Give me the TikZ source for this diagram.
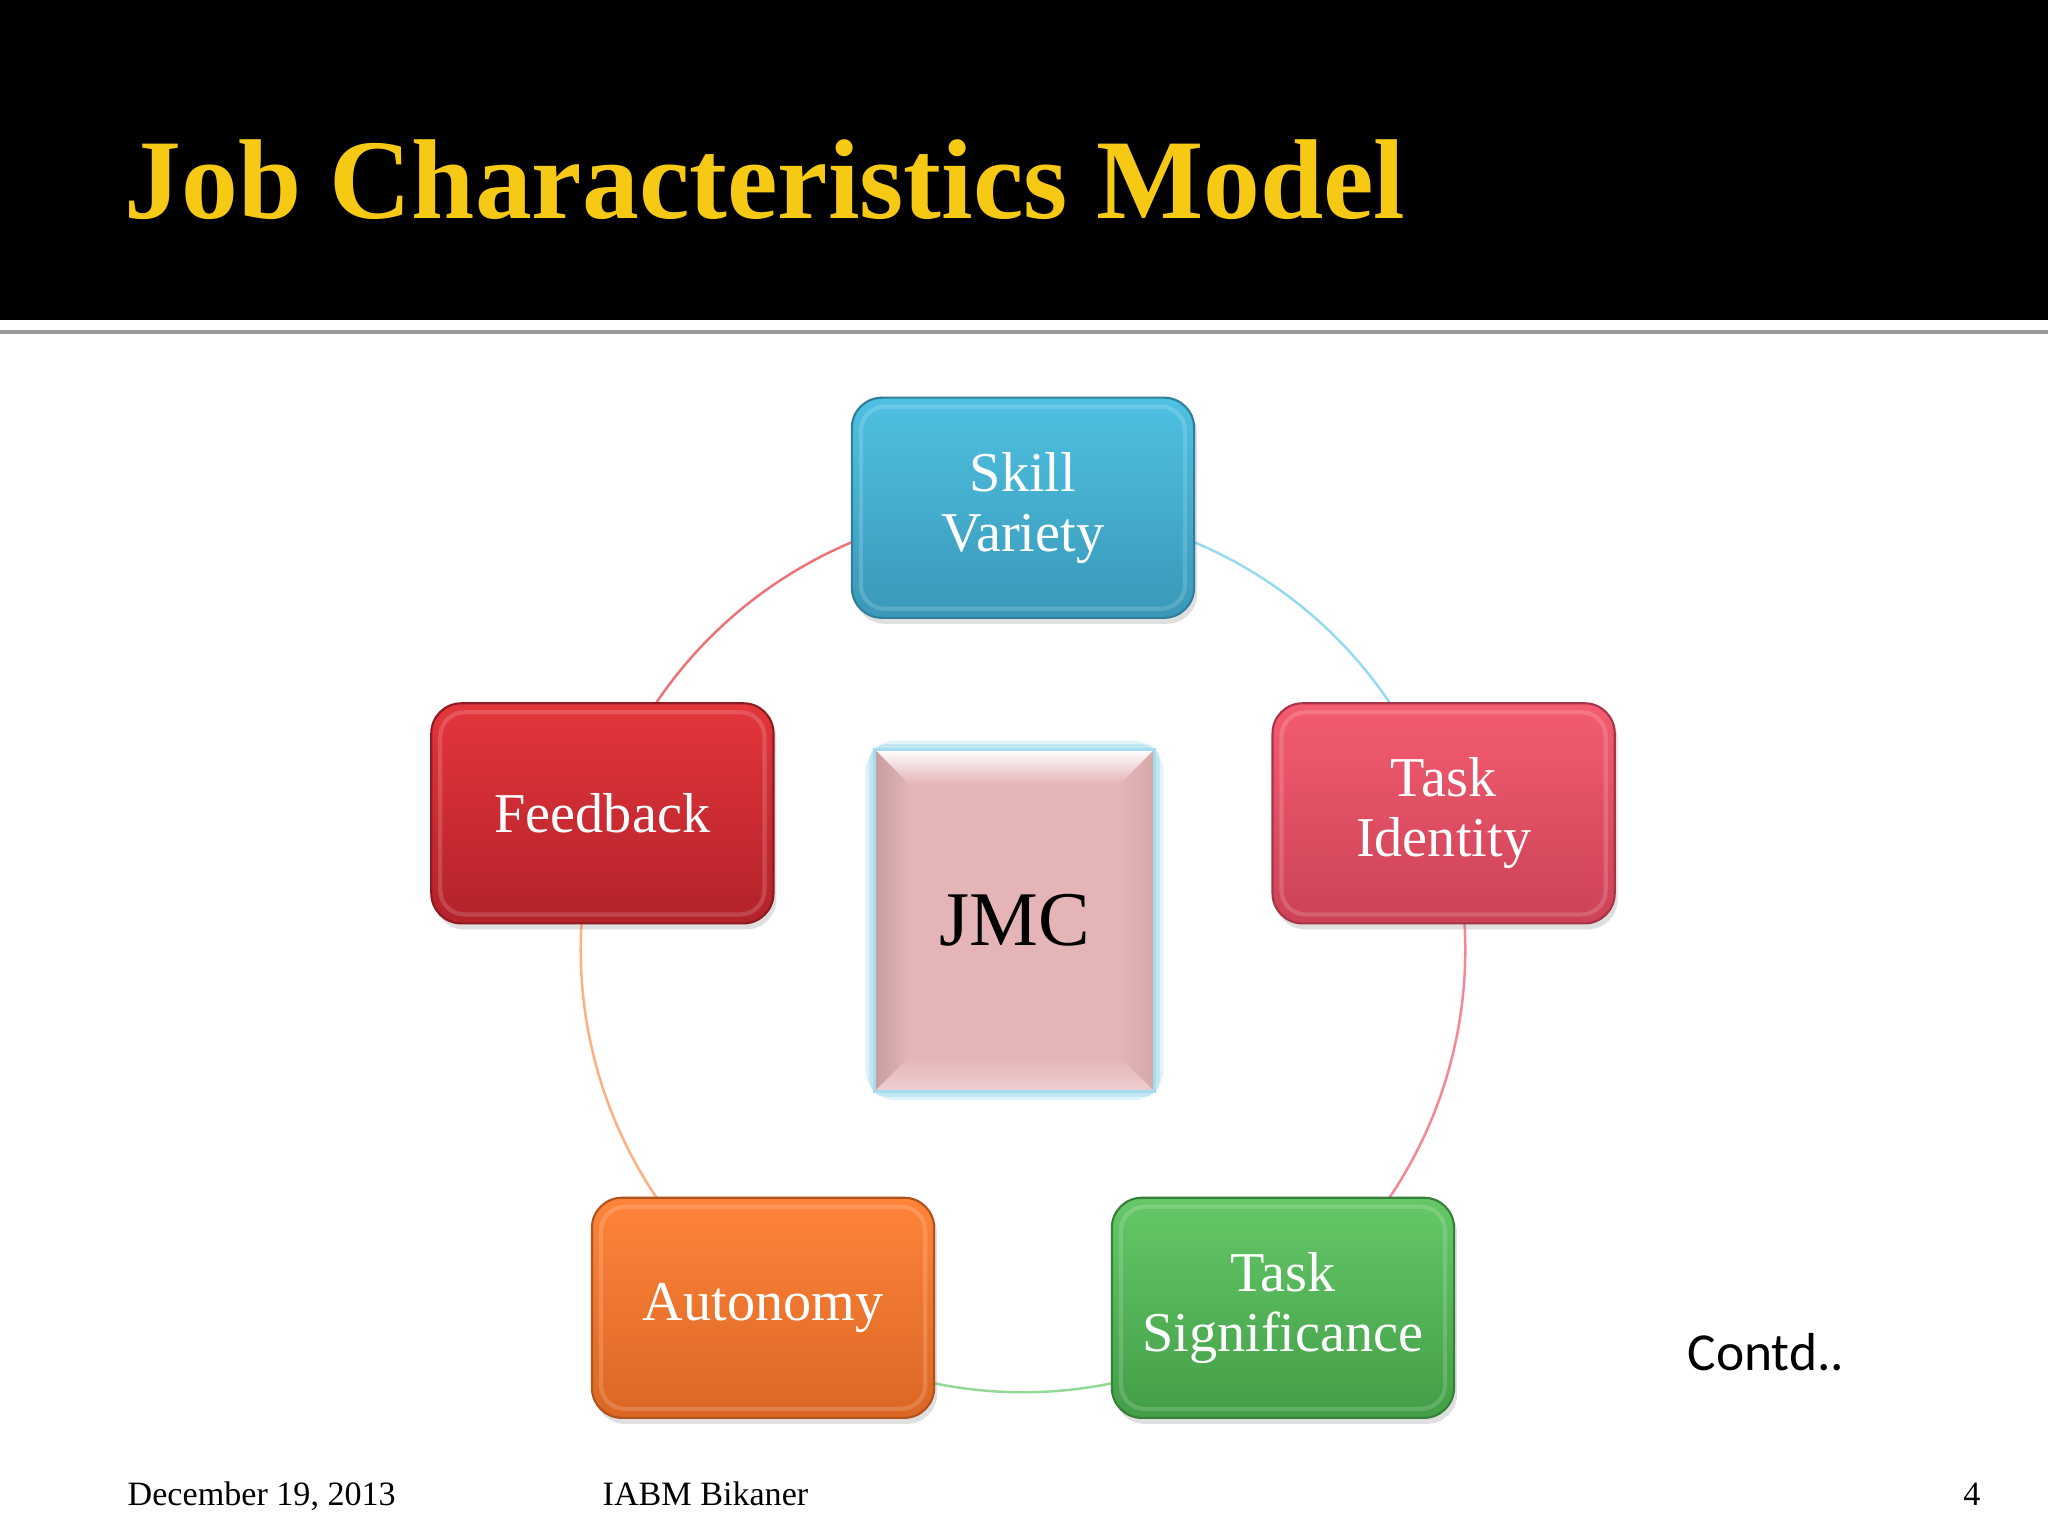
\documentclass[tikz,border=0pt]{standalone}
\usepackage{fontspec}
\setmainfont{Liberation Serif}
\newfontfamily\contdfont{Carlito}
\usetikzlibrary
  {
    calc,         % corner offsets of the bevels
    backgrounds,  % circle behind the boxes
    shadows,      % soft shadow under the boxes
    positioning,
  }

\definecolor{titlegold}{HTML}{F6C915}
\definecolor{skilltop}{HTML}{4EC1E2}
\definecolor{skillbot}{HTML}{3A98B8}
\definecolor{skillrim}{HTML}{2F7F9C}
\definecolor{feedtop}{HTML}{E3363B}
\definecolor{feedbot}{HTML}{B3222A}
\definecolor{feedrim}{HTML}{8E1A20}
\definecolor{idtop}{HTML}{F45C70}
\definecolor{idbot}{HTML}{CC4257}
\definecolor{idrim}{HTML}{A63446}
\definecolor{autotop}{HTML}{FF843A}
\definecolor{autobot}{HTML}{DA6724}
\definecolor{autorim}{HTML}{B0521C}
\definecolor{sigtop}{HTML}{64C868}
\definecolor{sigbot}{HTML}{439E47}
\definecolor{sigrim}{HTML}{357F38}
\definecolor{jmcpink}{HTML}{E4B4B6}
\definecolor{jmcglow}{HTML}{A6DCEE}

\tikzset{
  highlight/.style={path picture={
      \draw[white, opacity=.16, line width=1.2pt, rounded corners=2.4mm]
        ([shift={(0.9mm,0.9mm)}]path picture bounding box.south west) rectangle
        ([shift={(-0.9mm,-0.9mm)}]path picture bounding box.north east);}},
  trait/.style={rectangle, rounded corners=3mm, minimum width=3.42cm,
    minimum height=2.2cm, inner sep=0pt, align=center, text=white,
    font=\fontsize{16}{17}\selectfont, line width=0.6pt,
    drop shadow={shadow xshift=0.3mm, shadow yshift=-0.6mm, opacity=.25},
    highlight},
  ring/.style={line width=0.7pt},
  footer/.style={inner sep=0pt, font=\fontsize{9.7}{12}\selectfont},
}

\begin{document}
\begin{tikzpicture}[x=0.01cm, y=-0.01cm]
  \useasboundingbox (0,0) rectangle (2048,1536);

  % title band
  \fill[black] (0,0) rectangle (2048,320);
  \draw[gray!80, line width=0.9pt] (0,332) -- (2048,332);
  \node[anchor=base west, inner sep=0pt, text=titlegold,
        font=\fontsize{32.3}{36}\selectfont\bfseries] (title) at (124,218)
        {Job Characteristics Model};

  % the five characteristics round the hub
  \coordinate (hub) at (1023,950);
  \node[trait, top color=skilltop, bottom color=skillbot, draw=skillrim]
    (skill) at ($(hub)+(90:4.42cm)$) {Skill\\Variety};
  \node[trait, top color=idtop, bottom color=idbot, draw=idrim]
    (identity) at ($(hub)+(18:4.42cm)$) {Task\\Identity};
  \node[trait, top color=sigtop, bottom color=sigbot, draw=sigrim]
    (significance) at ($(hub)+(-54:4.42cm)$) {Task\\Significance};
  \node[trait, top color=autotop, bottom color=autobot, draw=autorim]
    (autonomy) at ($(hub)+(-126:4.42cm)$) {Autonomy};
  \node[trait, top color=feedtop, bottom color=feedbot, draw=feedrim]
    (feedback) at ($(hub)+(162:4.42cm)$) {Feedback};

  % centre box
  \node[rectangle, fill=jmcpink, minimum width=2.75cm, minimum height=3.37cm,
        inner sep=0pt, font=\fontsize{22}{26}\selectfont] (jmc) at (1014.5,920.5) {JMC};
  \shade[top color=white!95!jmcpink, bottom color=jmcpink]
    (jmc.north west) -- (jmc.north east) -- ($(jmc.north east)+(-33,33)$)
    -- ($(jmc.north west)+(33,33)$) -- cycle;
  \shade[left color=jmcpink!88!black, right color=jmcpink]
    (jmc.north west) -- ($(jmc.north west)+(33,33)$)
    -- ($(jmc.south west)+(33,-33)$) -- (jmc.south west) -- cycle;
  \shade[left color=jmcpink, right color=jmcpink!94!black]
    (jmc.north east) -- (jmc.south east) -- ($(jmc.south east)+(-33,-33)$)
    -- ($(jmc.north east)+(-33,33)$) -- cycle;
  \shade[top color=jmcpink, bottom color=white!35!jmcpink]
    (jmc.south west) -- ($(jmc.south west)+(33,-33)$)
    -- ($(jmc.south east)+(-33,-33)$) -- (jmc.south east) -- cycle;

  % contd. and footer
  \node[anchor=base west, inner sep=0pt, font=\contdfont\fontsize{15.2}{18}\selectfont]
    (contd) at (1687,1370) {Contd..};
  \node[footer, anchor=base west] (date) at (127,1505) {December 19, 2013};
  \node[footer, anchor=base west] (place) at (602,1505) {IABM Bikaner};
  \node[footer, anchor=base east] (page) at (1981,1505) {4};

  \begin{pgfonlayer}{background}
    \fill[white] (0,0) rectangle (2048,1536);
    \fill[black] (0,0) rectangle (2048,320);
    % glow round the centre box
    \draw[jmcglow!35, line width=6pt, rounded corners=2mm]
      (jmc.south west) rectangle (jmc.north east);
    \draw[jmcglow!70, line width=4pt, rounded corners=1mm]
      (jmc.south west) rectangle (jmc.north east);
    \draw[jmcglow, line width=2pt]
      (jmc.south west) rectangle (jmc.north east);
    % the ring, one arc per box
    \draw[ring, skilltop!60] (skill.center) arc[start angle=90, end angle=18, radius=4.42cm];
    \draw[ring, idtop!75] (identity.center) arc[start angle=18, end angle=-54, radius=4.42cm];
    \draw[ring, sigtop!70] (significance.center) arc[start angle=-54, end angle=-126, radius=4.42cm];
    \draw[ring, autotop!65] (autonomy.center) arc[start angle=-126, end angle=-198, radius=4.42cm];
    \draw[ring, feedtop!70] (feedback.center) arc[start angle=162, end angle=90, radius=4.42cm];
  \end{pgfonlayer}
\end{tikzpicture}
\end{document}
